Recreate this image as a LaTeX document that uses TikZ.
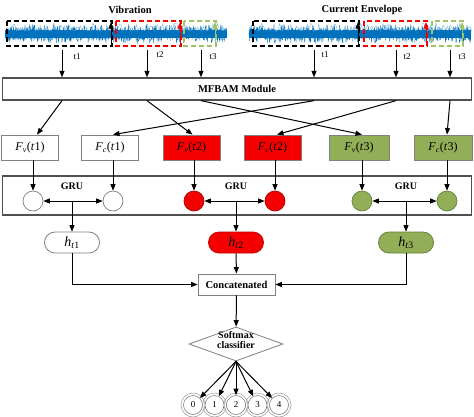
\documentclass[tikz,border=0pt]{standalone}
\usepackage{fontspec}
\setmainfont{Liberation Serif}
\usetikzlibrary{arrows.meta,shapes.geometric,calc}
\definecolor{sigblue}{RGB}{0,114,189}
\definecolor{fred}{RGB}{245,0,0}
\definecolor{fgreen}{RGB}{146,174,86}
\definecolor{dgreen}{RGB}{100,130,60}
\definecolor{lgreen}{RGB}{160,195,100}
\definecolor{bgray}{RGB}{80,80,80}
\begin{document}
\begin{tikzpicture}[x=1pt,y=-1pt,
  >={Triangle[length=6.5pt,width=5pt]},
  arr/.style={->, line width=1pt, black},
  darr/.style={<->, line width=1pt, black},
  bold/.style={font=\fontsize{10.5}{11}\selectfont\bfseries},
  bigbox/.style={draw=bgray, line width=1.3pt, fill=white, inner sep=0pt},
  feat/.style={draw=gray, line width=0.8pt, minimum width=57pt, minimum height=25pt, inner sep=0pt, font=\fontsize{12}{12}\selectfont},
  cell/.style={circle, draw=gray, line width=0.7pt, minimum size=20pt, inner sep=0pt},
  hnode/.style={rectangle, rounded corners=10.5pt, draw=gray, line width=0.8pt, minimum width=55pt, minimum height=21pt, inner sep=0pt, font=\fontsize{14}{14}\selectfont},
  win/.style={line width=1.2pt, dash pattern=on 5pt off 3pt},
  tlab/.style={font=\fontsize{9}{9}\selectfont, inner sep=0pt},
  outc/.style={circle, draw=gray, line width=0.6pt, minimum size=19pt, inner sep=0pt, font=\fontsize{9}{9}\selectfont},
  sig/.style={sigblue, line width=0.4pt},
  spk/.style={sigblue!55, line width=0.35pt},
]
\useasboundingbox (0,0) rectangle (474,416);
\fill[white] (0,0) rectangle (474,416);

% titles
\node[bold] (tv) at (130,10) {Vibration};
\node[bold] (tc) at (362,10) {Current Envelope};

% signals
\pgfmathsetseed{11}
\fill[sigblue] (5,30) rectangle (227,38);
\draw[sig] plot[domain=5:227, samples=500] (\x, {34+9*rand});
\draw[spk] plot[domain=5:227, samples=160] (\x, {31-8*abs(rand)^2});
\draw[sig] plot[domain=5:227, samples=300] (\x, {34+6*rand});
\fill[sigblue] (249,30) rectangle (471,38);
\draw[sig] plot[domain=249:471, samples=500] (\x, {34+9*rand});
\draw[spk] plot[domain=249:471, samples=160] (\x, {31-8*abs(rand)^2});
\draw[sig] plot[domain=249:471, samples=300] (\x, {34+6*rand});

% windows
\draw[win, black] (7,21) rectangle (112,46);
\draw[win, fred] (116,21) rectangle (181,46);
\draw[win, lgreen] (184,21) rectangle (216,46);
\draw[win, black] (253,21) rectangle (359,46);
\draw[win, fred] (364,21) rectangle (427,46);
\draw[win, lgreen] (432,21) rectangle (463,46);
\draw[->, line width=1pt, black] (111,44) -- (111,22);
\draw[->, line width=1pt, fred] (180,44) -- (180,22);
\draw[->, line width=1pt, lgreen] (215,44) -- (215,22);
\draw[->, line width=1pt, black] (358,44) -- (358,22);
\draw[->, line width=1pt, fred] (426,44) -- (426,22);
\draw[->, line width=1pt, lgreen] (462,44) -- (462,22);

% MFBAM
\node[bigbox, bold, minimum width=469pt, minimum height=22pt] (mf) at (237,89) {MFBAM Module};

\coordinate (v1) at (62,50);
\coordinate (v2) at (147,50);
\coordinate (v3) at (201,50);
\coordinate (c1) at (314,50);
\coordinate (c2) at (396,50);
\coordinate (c3) at (450,50);
\foreach \p in {v1,v2,v3,c1,c2,c3} \draw[arr] (\p) -- (\p |- mf.north);
\node[tlab] (lv1) at (77,57) {t1};
\node[tlab] (lv2) at (160,55) {t2};
\node[tlab] (lv3) at (213,57) {t3};
\node[tlab] (lc1) at (325,55) {t1};
\node[tlab] (lc2) at (407,57) {t2};
\node[tlab] (lc3) at (462,57) {t3};

% feature boxes
\node[feat, fill=white] (fv1) at (30,147.5) {\textit{F}\textsubscript{\textit{v}}(\textit{t}1)};
\node[feat, fill=white] (fc1) at (110,147.5) {\textit{F}\textsubscript{\textit{c}}(\textit{t}1)};
\node[feat, fill=fred] (fv2) at (191.5,147.5) {\textit{F}\textsubscript{\textit{v}}(\textit{t}2)};
\node[feat, fill=fred] (fc2) at (272.5,147.5) {\textit{F}\textsubscript{\textit{c}}(\textit{t}2)};
\node[feat, fill=fgreen, minimum width=60pt] (fv3) at (359,147.5) {\textit{F}\textsubscript{\textit{v}}(\textit{t}3)};
\node[feat, fill=fgreen, minimum width=58pt] (fc3) at (443,147.5) {\textit{F}\textsubscript{\textit{c}}(\textit{t}3)};

\draw[arr] (v1 |- mf.south) -- ([xshift=7pt]fv1.north);
\draw[arr] (v2 |- mf.south) -- ([xshift=1pt]fv2.north);
\draw[arr] (v3 |- mf.south) -- ([xshift=3pt]fv3.north);
\draw[arr] (c1 |- mf.south) -- ([xshift=3pt]fc1.north);
\draw[arr] (c2 |- mf.south) -- ([xshift=4.5pt]fc2.north);
\draw[arr] (c3 |- mf.south) -- ([xshift=4pt]fc3.north);

% GRU
\node[bigbox, minimum width=469pt, minimum height=39pt] (gru) at (237,195.5) {};
\node[bold, font=\fontsize{10}{10}\selectfont\bfseries] (g1) at (72,186) {GRU};
\node[bold, font=\fontsize{10}{10}\selectfont\bfseries] (g2) at (236,186) {GRU};
\node[bold, font=\fontsize{10}{10}\selectfont\bfseries] (g3) at (406,186) {GRU};
\node[cell, fill=white] (u1) at (33,201) {};
\node[cell, fill=white] (u2) at (113,201) {};
\node[cell, fill=fred, draw=fred!70!black] (u3) at (194,201) {};
\node[cell, fill=fred, draw=fred!70!black] (u4) at (275,201) {};
\node[cell, fill=fgreen, draw=dgreen] (u5) at (362,201) {};
\node[cell, fill=fgreen, draw=dgreen] (u6) at (447,201) {};
\draw[arr] (fv1.south -| u1) -- (u1);
\draw[arr] (fc1.south -| u2) -- (u2);
\draw[arr] (fv2.south -| u3) -- (u3);
\draw[arr] (fc2.south -| u4) -- (u4);
\draw[arr] (fv3.south -| u5) -- (u5);
\draw[arr] (fc3.south -| u6) -- (u6);
\draw[darr] (u1) -- (u2);
\draw[darr] (u3) -- (u4);
\draw[darr] (u5) -- (u6);

% hidden states
\node[hnode, fill=white] (h1) at (72,242.5) {\textit{h}\textsubscript{\textit{t}1}};
\node[hnode, fill=fred, draw=fred!80!black] (h2) at (236,242.5) {\textit{h}\textsubscript{\textit{t}2}};
\node[hnode, fill=fgreen, draw=dgreen] (h3) at (406,242.5) {\textit{h}\textsubscript{\textit{t}3}};
\draw[arr] (h1 |- u1) -- (h1);
\draw[arr] (h2 |- u3) -- (h2);
\draw[arr] (h3 |- u5) -- (h3);

% concatenation
\node[draw=gray, line width=0.8pt, minimum width=77pt, minimum height=21pt, inner sep=0pt, bold] (cat) at (236.5,284.5) {Concatenated};
\draw[arr] (h1) |- (cat);
\draw[arr] (h3) |- (cat);
\draw[arr] (h2) -- (cat);

% softmax
\node[diamond, draw=gray, line width=0.8pt, minimum width=94pt, minimum height=34pt, inner sep=0pt, aspect=2.76, font=\fontsize{10}{11}\selectfont\bfseries] (sm) at (236,344)
  {\smash{\makebox[0pt]{\begin{tabular}{@{}c@{}}Softmax\\[-1pt]classifier\end{tabular}}}};
\draw[arr] (cat) -- (sm);

% outputs
\foreach \i/\xx in {0/193,1/214.5,2/236,3/257.5,4/279} {
  \draw[gray!80, line width=0.5pt] (\xx,405) circle (12pt);
}
\foreach \i/\xx in {0/193,1/214.5,2/236,3/257.5,4/279} {
  \node[outc, fill=white] (o\i) at (\xx,405) {\i};
  \draw[arr] (sm.south) -- (o\i);
}
\end{tikzpicture}
\end{document}
